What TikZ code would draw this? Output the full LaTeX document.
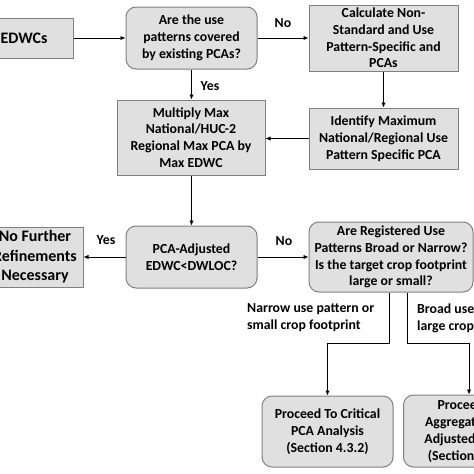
\documentclass[tikz,border=0pt]{standalone}
\usepackage{fontspec}
\setmainfont{Carlito}
\usepackage[rgb]{xcolor}
\usepackage{tikz}
\usetikzlibrary{arrows.meta}
\definecolor{boxgray}{RGB}{224,224,224}
\definecolor{edgegray}{RGB}{128,128,128}

\begin{document}
\begin{tikzpicture}[x=1pt, y=-1pt,
  >={Latex[length=5pt,width=4.5pt]},
  every node/.style={font=\fontsize{13.8}{16.8}\selectfont\bfseries, align=center, inner sep=0pt},
  box/.style={draw=edgegray, fill=boxgray, line width=1pt},
  roundbox/.style={box, rounded corners=10pt},
  bigtext/.style={font=\fontsize{16}{19.5}\selectfont\bfseries},
  flow/.style={->, line width=0.9pt}]

\path[use as bounding box, clip] (0,0) rectangle (474,474);

% top row
\path
(24,38) node [box, bigtext, minimum width=98, minimum height=40] (edwcs) {EDWCs}
(191.5,38) node [roundbox, minimum width=131, minimum height=62] (covered)
  {Are the use\\patterns covered\\by existing PCAs?}
(383.5,38) node [box, minimum width=149, minimum height=66] (calcpca)
  {Calculate Non-\\Standard and Use\\Pattern-Specific and\\PCAs};

% second row
\path
(191,137.5) node [box, minimum width=148, minimum height=75] (multiply)
  {Multiply Max\\National/HUC-2\\Regional Max PCA by\\Max EDWC}
(383.5,138.5) node [box, minimum width=149, minimum height=61] (identify)
  {Identify Maximum\\National/Regional Use\\Pattern Specific PCA};

% third row
\path
(35,257) node [box, bigtext, minimum width=96, minimum height=60] (nofurther)
  {No Further\\Refinements\\Necessary}
(191.5,257) node [roundbox, minimum width=131, minimum height=62] (adjusted)
  {PCA-Adjusted\\EDWC<DWLOC?}
(391,257) node [roundbox, minimum width=164, minimum height=70] (registered)
  {Are Registered Use\\Patterns Broad or Narrow?\\Is the target crop footprint\\large or small?};

% bottom row
\path
(327.5,431.5) node [roundbox, minimum width=131, minimum height=71] (critical)
  {Proceed To Critical\\PCA Analysis\\(Section 4.3.2)}
(469,431) node [roundbox, minimum width=131, minimum height=72] (aggregate)
  {Proceed To\\Aggregate PCA-\\Adjusted EDWC\\(Section 4.3.3)};

% branch labels
\path
(283,23) node (nofirst) {No}
(210,86) node (yesfirst) {Yes}
(106,240) node (yessecond) {Yes}
(284,241) node (nosecond) {No}
(247,318) node [anchor=west, align=left] (narrowlbl) {Narrow use pattern or\\small crop footprint}
(417,318) node [anchor=west, align=left] (broadlbl) {Broad use pattern or\\large crop footprint};

% connectors
\draw[flow] (edwcs.east) -- (covered.west);
\draw[flow] (covered.east) -- (calcpca.west);
\draw[flow] (covered.south) -- (covered.south |- multiply.north);
\draw[flow] (calcpca.south) -- (identify.north);
\draw[flow] (identify.west) -- (identify.west -| multiply.east);
\draw[flow] (multiply.south -| adjusted.north) -- (adjusted.north);
\draw[flow] (adjusted.west) -- (nofurther.east);
\draw[flow] (adjusted.east) -- (registered.west);
\draw[flow] ([xshift=-2pt]registered.south) -- ++(0,51) -| (critical.north);
\draw[flow] ([xshift=16pt]registered.south) -- ++(0,51) -| (aggregate.north);

\end{tikzpicture}
\end{document}
